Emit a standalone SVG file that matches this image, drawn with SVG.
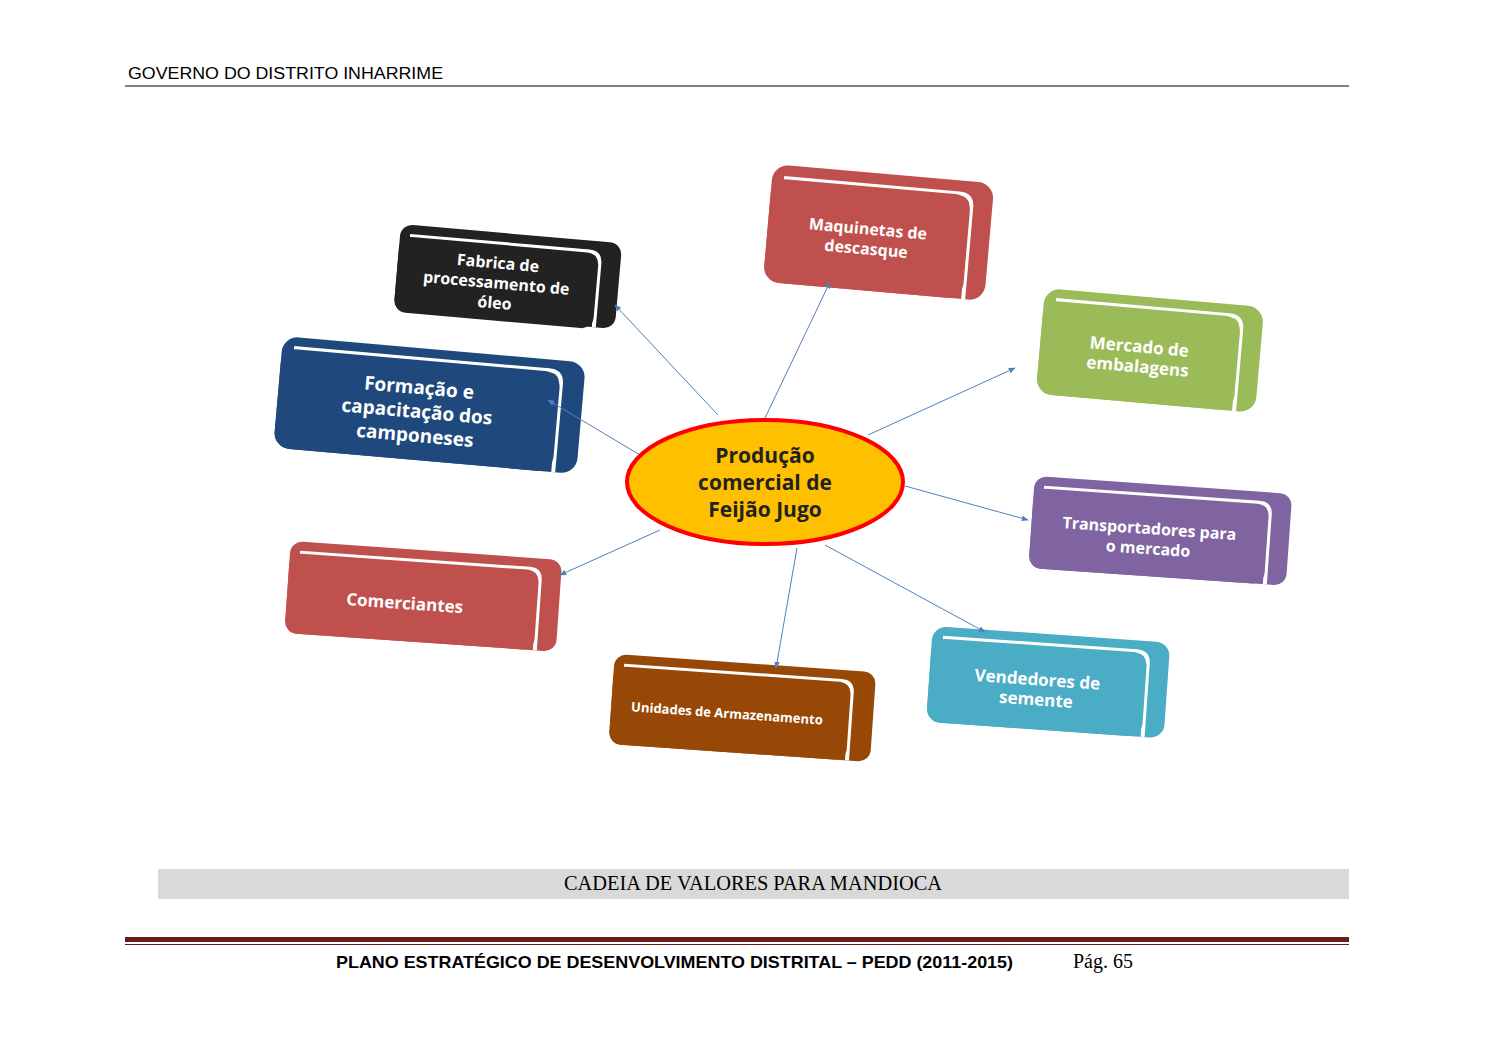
<svg xmlns="http://www.w3.org/2000/svg" width="1500" height="1060" viewBox="0 0 1500 1060">
<defs>
<style>
.wl{fill:none;stroke:#fff;stroke-width:4}
.bt{font-family:"Open Sans","DejaVu Sans",sans-serif;font-weight:bold;fill:#fff;text-anchor:middle}
.ar{stroke:#4f81bd;stroke-width:1;fill:none;marker-end:url(#ah)}
</style>
<marker id="ah" viewBox="0 0 10 10" refX="9" refY="5" markerWidth="7" markerHeight="7" orient="auto"><path d="M0,1 L10,5 L0,9 z" fill="#4f81bd"/></marker>
</defs>
<rect width="1500" height="1060" fill="#fff"/>
<text x="128" y="79" font-family="Liberation Sans,Arial,sans-serif" font-size="16" fill="#000" textLength="315" lengthAdjust="spacingAndGlyphs">GOVERNO DO DISTRITO INHARRIME</text>
<line x1="125" y1="86" x2="1349" y2="86" stroke="#000" stroke-width="1"/>

<g id="fabrica" transform="translate(400,236) rotate(5)">
<rect x="0" y="-12" width="222" height="86" rx="12" fill="#222"/>
<path class="wl" d="M10,-1 H190 Q201,-1 201,10 V74"/>
<rect x="0" y="0" width="200" height="76" rx="12" fill="#222"/>
<text class="bt" font-size="16"><tspan x="100" y="24">Fabrica de</tspan><tspan x="100" y="44">processamento de</tspan><tspan x="100" y="64">óleo</tspan></text>
</g>

<g id="maquinetas" transform="translate(772,178) rotate(5)">
<rect x="0" y="-14" width="222" height="118" rx="16" fill="#c0504d"/>
<path class="wl" d="M12,-1 H188 Q201,-1 201,12 V104"/>
<rect x="0" y="0" width="200" height="104" rx="16" fill="#c0504d"/>
<text class="bt" font-size="16"><tspan x="100" y="48">Maquinetas de</tspan><tspan x="100" y="68">descasque</tspan></text>
</g>

<g id="mercado" transform="translate(1044,300) rotate(5)">
<rect x="0" y="-12" width="220" height="106" rx="16" fill="#9bbb59"/>
<path class="wl" d="M12,-1 H186 Q199,-1 199,12 V94"/>
<rect x="0" y="0" width="198" height="94" rx="16" fill="#9bbb59"/>
<text class="bt" font-size="17"><tspan x="99" y="44">Mercado de</tspan><tspan x="99" y="64">embalagens</tspan></text>
</g>

<g id="formacao" transform="translate(282,348) rotate(5)">
<rect x="0" y="-12" width="304" height="112" rx="16" fill="#1f497d"/>
<path class="wl" d="M12,-1 H268 Q281,-1 281,12 V100"/>
<rect x="0" y="0" width="280" height="100" rx="16" fill="#1f497d"/>
<text class="bt" font-size="19"><tspan x="140" y="34">Formação e</tspan><tspan x="140" y="58">capacitação dos</tspan><tspan x="140" y="82">camponeses</tspan></text>
</g>

<g id="transportadores" transform="translate(1034,488) rotate(4)">
<rect x="0" y="-12" width="258" height="92" rx="12" fill="#8064a2"/>
<path class="wl" d="M10,-1 H226 Q237,-1 237,10 V80"/>
<rect x="0" y="0" width="236" height="80" rx="12" fill="#8064a2"/>
<text class="bt" font-size="16"><tspan x="118" y="38">Transportadores  para</tspan><tspan x="118" y="58">o mercado</tspan></text>
</g>

<g id="comerciantes" transform="translate(290,553) rotate(4)">
<rect x="0" y="-12" width="272" height="92" rx="12" fill="#c0504d"/>
<path class="wl" d="M10,-1 H240 Q251,-1 251,10 V80"/>
<rect x="0" y="0" width="250" height="80" rx="12" fill="#c0504d"/>
<text class="bt" font-size="17" x="118" y="48">Comerciantes</text>
</g>

<g id="unidades" transform="translate(614,666) rotate(4)">
<rect x="0" y="-12" width="262" height="90" rx="12" fill="#984806"/>
<path class="wl" d="M10,-1 H228 Q239,-1 239,10 V78"/>
<rect x="0" y="0" width="238" height="78" rx="12" fill="#984806"/>
<text class="bt" font-size="13" x="116" y="44">Unidades de Armazenamento</text>
</g>

<g id="vendedores" transform="translate(932,638) rotate(4)">
<rect x="0" y="-12" width="238" height="96" rx="14" fill="#4bacc6"/>
<path class="wl" d="M11,-1 H205 Q217,-1 217,11 V84"/>
<rect x="0" y="0" width="216" height="84" rx="14" fill="#4bacc6"/>
<text class="bt" font-size="17"><tspan x="108" y="40">Vendedores de</tspan><tspan x="108" y="60">semente</tspan></text>
</g>

<g id="connectors">
<line class="ar" x1="718" y1="415" x2="615" y2="305"/>
<line class="ar" x1="765" y1="418" x2="830" y2="282"/>
<line class="ar" x1="868" y1="435" x2="1015" y2="368"/>
<line class="ar" x1="640" y1="455" x2="548" y2="400"/>
<line class="ar" x1="905" y1="486" x2="1028" y2="520"/>
<line class="ar" x1="660" y1="530" x2="560" y2="575"/>
<line class="ar" x1="797" y1="548" x2="776" y2="668"/>
<line class="ar" x1="825" y1="545" x2="985" y2="632"/>
</g>

<g id="center">
<ellipse cx="765" cy="482" rx="138" ry="62" fill="#ffc000" stroke="#ff0000" stroke-width="4"/>
<text font-family="Open Sans,DejaVu Sans,sans-serif" font-weight="bold" font-size="21" fill="#222" text-anchor="middle"><tspan x="765" y="463">Produção</tspan><tspan x="765" y="490">comercial de</tspan><tspan x="765" y="517">Feijão Jugo</tspan></text>
</g>

<rect x="158" y="869" width="1191" height="30" fill="#d9d9d9"/>
<text x="564" y="890" font-family="Liberation Serif,Times New Roman,serif" font-size="20" fill="#000" textLength="378" lengthAdjust="spacingAndGlyphs">CADEIA DE VALORES PARA MANDIOCA</text>
<rect x="125" y="937" width="1224" height="5" fill="#6b1a1a"/>
<line x1="125" y1="944.5" x2="1349" y2="944.5" stroke="#6b1a1a" stroke-width="1"/>
<text x="336" y="968" font-family="Liberation Sans,Arial,sans-serif" font-weight="bold" font-size="17" fill="#000" textLength="677" lengthAdjust="spacingAndGlyphs">PLANO ESTRATÉGICO DE DESENVOLVIMENTO DISTRITAL – PEDD (2011-2015)</text>
<text x="1073" y="968" font-family="Liberation Serif,Times New Roman,serif" font-size="20" fill="#000">Pág. 65</text>
</svg>
